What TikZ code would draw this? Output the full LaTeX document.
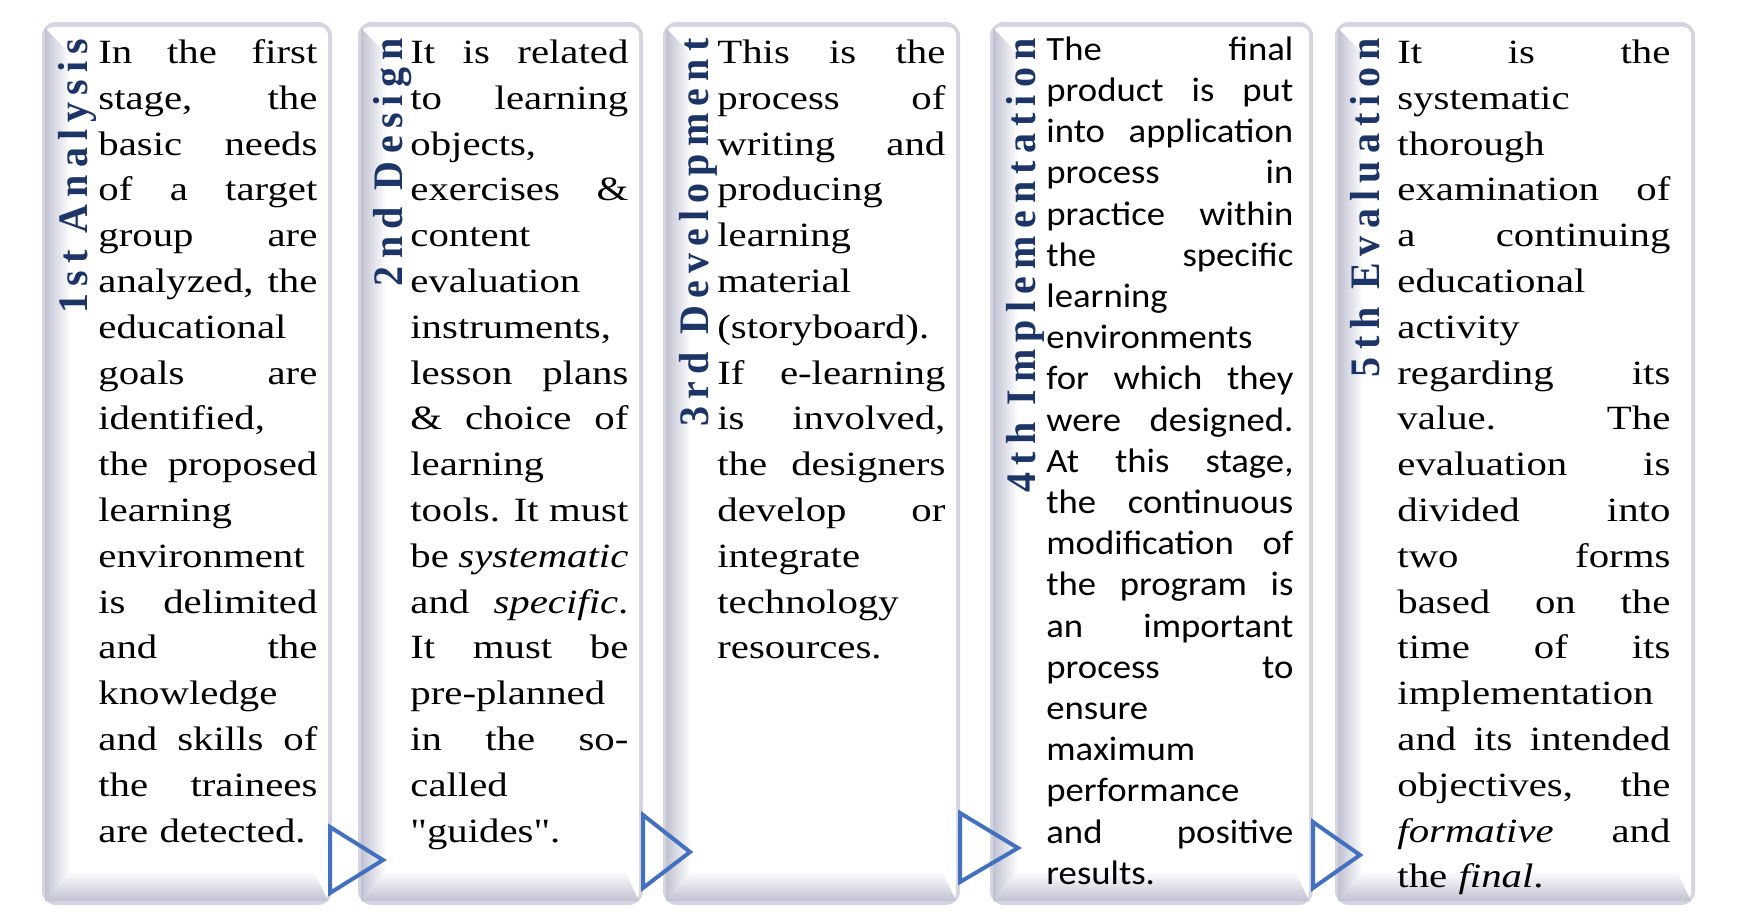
\documentclass[tikz,border=0pt]{standalone}
\usepackage{fontspec}
\setmainfont{Liberation Serif}[FakeStretch=1.2]
\newfontfamily\rawserif{Liberation Serif}[FakeStretch=1.2]
\newfontfamily\calfont{Carlito}[FakeStretch=1.08]
\newfontfamily\ttlfont{Liberation Serif}[LetterSpace=18]
\definecolor{navy}{RGB}{28,52,102}
\definecolor{framec}{RGB}{212,213,222}
\definecolor{bevc}{RGB}{192,194,210}
\definecolor{tric}{RGB}{68,112,192}
\newlength\jw
\newcommand\jl[1]{{\spaceskip=0pt\xspaceskip=0pt\makebox[\jw][s]{#1}}}
\newcommand\bevbox[4]{%
  \fill[framec, rounded corners=7] (#1,#2) rectangle (#3,#4);
  \fill[white, rounded corners=4] ({#1+3},{#2+5}) rectangle ({#3-4},{#4-4});
  \shade[left color=bevc, right color=white] ({#1+3},{#2+6}) -- ({#1+28},{#2+32}) -- ({#1+28},{#4-34}) -- ({#1+3},{#4-4}) -- cycle;
  \shade[bottom color=bevc, top color=white] ({#1+3},{#4-4}) -- ({#1+28},{#4-34}) -- ({#3-18},{#4-34}) -- ({#3-4},{#4-4}) -- cycle;
}
\tikzset{
  sertxt/.style={anchor=north west, inner sep=0, align=left, font=\fontsize{17}{22.9}\selectfont},
  caltxt/.style={anchor=north west, inner sep=0, align=left, font=\calfont\fontsize{17}{20.6}\selectfont},
  ttl/.style={rotate=90, anchor=base east, inner sep=0, text=navy, font=\ttlfont\bfseries\fontsize{20}{24}\selectfont},
  tri/.style={draw=tric, line width=2pt, line join=miter}
}
\begin{document}
\begin{tikzpicture}[x=0.5pt,y=-0.5pt]
\useasboundingbox (0,0) rectangle (1753,919);
\bevbox{42}{22}{332}{905}
\bevbox{358}{22}{643}{905}
\bevbox{663}{22}{960}{905}
\bevbox{990}{22}{1313}{905}
\bevbox{1335}{22}{1695}{905}

\node[ttl] (h1) at (87,38) {\scalebox{1}[1.05]{1st Analysis}};
\node[ttl] (h2) at (402,38) {\scalebox{1}[1.05]{2nd Design}};
\node[ttl] (h3) at (708,38) {\scalebox{1}[1.05]{3rd Development}};
\node[ttl] (h4) at (1035,38) {\scalebox{1}[1.05]{4th Implementation}};
\node[ttl] (h5) at (1379,38) {\scalebox{1}[1.05]{5th Evaluation}};

\node[sertxt, text width=109.5pt] (t1) at (98,31) {\setlength\jw{109.5pt}\strut\jl{In the first}\\
\jl{stage, the}\\ \jl{basic needs}\\ \jl{of a target}\\ \jl{group are}\\
\jl{analyzed, the}\\ educational\\ \jl{goals are}\\ identified,\\
\jl{the proposed}\\ learning\\ environment\\ \jl{is delimited}\\ \jl{and the}\\
knowledge\\ \jl{and skills of}\\ \jl{the trainees}\\ are detected.};

\node[sertxt, text width=109pt] (t2) at (410,31) {\setlength\jw{109pt}\strut\jl{It is related}\\
\jl{to learning}\\ objects,\\ \jl{exercises \&}\\ content\\ evaluation\\
instruments,\\ \jl{lesson plans}\\ \jl{\& choice of}\\ learning\\
\jl{tools. It must}\\ \jl{be \textit{systematic}}\\ \jl{and \textit{specific}.}\\
\jl{It must be}\\ pre-planned\\ \jl{in the so-}\\ called\\ {\rawserif\char34}guides{\rawserif\char34}.};

\node[sertxt, text width=114pt] (t3) at (717,31) {\setlength\jw{114pt}\strut\jl{This is the}\\
\jl{process of}\\ \jl{writing and}\\ producing\\ learning\\ material\\
(storyboard).\\ \jl{If e-learning}\\ \jl{is involved,}\\ \jl{the designers}\\
\jl{develop or}\\ integrate\\ technology\\ resources.};

\node[caltxt, text width=123.5pt] (t4) at (1046,31) {\setlength\jw{123.5pt}\strut\jl{The final}\\
\jl{product is put}\\ \jl{into application}\\ \jl{process in}\\
\jl{practice within}\\ \jl{the specific}\\ learning\\ environments\\
\jl{for which they}\\ \jl{were designed.}\\ \jl{At this stage,}\\
\jl{the continuous}\\ \jl{modification of}\\ \jl{the program is}\\
\jl{an important}\\ \jl{process to}\\ ensure\\ maximum\\ performance\\
\jl{and positive}\\ results.};

\node[sertxt, text width=136.5pt] (t5) at (1397,31) {\setlength\jw{136.5pt}\strut\jl{It is the}\\
systematic\\ thorough\\ \jl{examination of}\\ \jl{a continuing}\\
educational\\ activity\\ \jl{regarding its}\\ \jl{value. The}\\
\jl{evaluation is}\\ \jl{divided into}\\ \jl{two forms}\\ \jl{based on the}\\
\jl{time of its}\\ implementation\\ \jl{and its intended}\\
\jl{objectives, the}\\ \jl{\textit{formative} and}\\ the \textit{final}.};

\draw[tri] (330,827) -- (383,860) -- (330,893) -- cycle;
\draw[tri] (643,815) -- (690,852) -- (643,888) -- cycle;
\draw[tri] (960,813) -- (1018,848) -- (960,882) -- cycle;
\draw[tri] (1313,822) -- (1360,855) -- (1313,888) -- cycle;
\end{tikzpicture}
\end{document}
